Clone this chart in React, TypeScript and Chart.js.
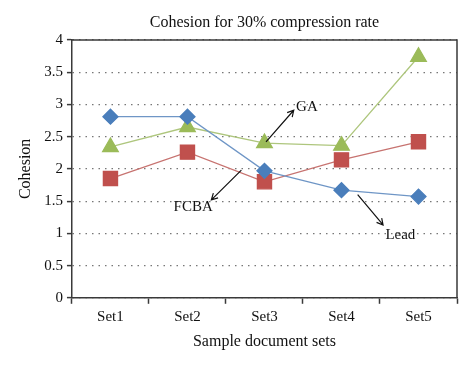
import React, { useEffect, useRef } from "react";
import { Chart, registerables } from "chart.js";

Chart.register(...registerables);

const categories = ["Set1", "Set2", "Set3", "Set4", "Set5"];
const leadValues = [2.81, 2.81, 1.97, 1.67, 1.57];
const gaValues = [2.34, 2.65, 2.40, 2.36, 3.74];
const fcbaValues = [1.85, 2.26, 1.80, 2.14, 2.42];

const titleText = "Cohesion for 30% compression rate";
const xTitle = "Sample document sets";
const yTitle = "Cohesion";

// annotation arrows in data coordinates: [fromIndex, fromValue, toIndex, toValue], label anchor [index, value]
const annotations = [
  { label: "GA", from: [2.02, 2.42], to: [2.38, 2.91], text: [2.41, 2.96] },
  { label: "FCBA", from: [1.70, 1.98], to: [1.31, 1.52], text: [0.82, 1.41] },
  { label: "Lead", from: [3.21, 1.60], to: [3.54, 1.13], text: [3.57, 0.98] },
];

const FONT = "'Liberation Serif', 'DejaVu Serif', serif";

const decorPlugin = {
  id: "decor",
  afterDraw(chart: any) {
    const { ctx, chartArea, scales } = chart;
    const xs = scales.x;
    const ys = scales.y;
    ctx.save();
    ctx.strokeStyle = "#3a3a3a";
    ctx.lineWidth = 1.5;
    ctx.beginPath();
    ctx.moveTo(chartArea.left, chartArea.top);
    ctx.lineTo(chartArea.right, chartArea.top);
    ctx.lineTo(chartArea.right, chartArea.bottom);
    ctx.stroke();
    ctx.fillStyle = "#111";
    ctx.font = `16px ${FONT}`;
    ctx.textAlign = "center";
    ctx.textBaseline = "middle";
    ctx.fillText(titleText, (chartArea.left + chartArea.right) / 2, 23);
    const px = (i: number) => xs.getPixelForValue(0) + i * (xs.getPixelForValue(1) - xs.getPixelForValue(0));
    const py = (v: number) => ys.getPixelForValue(v);
    ctx.strokeStyle = "#111";
    ctx.lineWidth = 1.2;
    for (const a of annotations) {
      const x1 = px(a.from[0]), y1 = py(a.from[1]);
      const x2 = px(a.to[0]), y2 = py(a.to[1]);
      ctx.beginPath();
      ctx.moveTo(x1, y1);
      ctx.lineTo(x2, y2);
      const ang = Math.atan2(y2 - y1, x2 - x1);
      const h = 7;
      ctx.moveTo(x2 - h * Math.cos(ang - 0.5), y2 - h * Math.sin(ang - 0.5));
      ctx.lineTo(x2, y2);
      ctx.lineTo(x2 - h * Math.cos(ang + 0.5), y2 - h * Math.sin(ang + 0.5));
      ctx.stroke();
      ctx.font = `15px ${FONT}`;
      ctx.textAlign = "left";
      ctx.textBaseline = "middle";
      ctx.fillText(a.label, px(a.text[0]), py(a.text[1]));
    }
    ctx.restore();
  },
};

export default function App() {
  const ref = useRef<HTMLCanvasElement>(null);
  useEffect(() => {
    if (!ref.current) return;
    const chart = new Chart(ref.current, {
      type: "line",
      data: {
        labels: categories,
        datasets: [
          {
            label: "Lead",
            data: leadValues,
            borderColor: "#6f96c6",
            backgroundColor: "#4a7ebb",
            pointBorderColor: "#4a7ebb",
            pointStyle: "rectRot",
            pointRadius: 7.5,
            borderWidth: 1.3,
          },
          {
            label: "FCBA",
            data: fcbaValues,
            borderColor: "#c77370",
            backgroundColor: "#c0504d",
            pointBorderColor: "#c0504d",
            pointStyle: "rect",
            pointRadius: 10,
            borderWidth: 1.3,
          },
          {
            label: "GA",
            data: gaValues,
            borderColor: "#aec67d",
            backgroundColor: "#9bbb59",
            pointBorderColor: "#9bbb59",
            pointStyle: "triangle",
            pointRadius: 9,
            borderWidth: 1.3,
          },
        ],
      },
      options: {
        responsive: false,
        animation: false,
        layout: { padding: { top: 40, right: 17, left: 12, bottom: 12 } },
        plugins: { legend: { display: false }, title: { display: false }, tooltip: { enabled: false } },
        scales: {
          x: {
            offset: true,
            grid: {
              display: true,
              drawOnChartArea: false,
              drawTicks: true,
              tickLength: 6,
              tickColor: "#3a3a3a",
              tickWidth: 1.5,
              offset: true,
            },
            border: { display: true, color: "#3a3a3a", width: 1.5 },
            ticks: { color: "#111", font: { family: FONT, size: 15 }, padding: 4 },
            title: { display: true, text: xTitle, color: "#111", font: { family: FONT, size: 16 }, padding: { top: 2 } },
          },
          y: {
            min: 0,
            max: 4,
            ticks: {
              stepSize: 0.5,
              color: "#111",
              font: { family: FONT, size: 15 },
              padding: 4,
              callback: (v: any) => String(v),
            },
            grid: {
              color: "#777",
              lineWidth: 1.2,
              tickBorderDash: [],
              tickColor: "#3a3a3a",
              tickLength: 5,
              tickWidth: 1.5,
            } as any,
            border: { display: true, color: "#3a3a3a", width: 1.5, dash: [1.5, 5] } as any,
            title: { display: true, text: yTitle, color: "#111", font: { family: FONT, size: 16 }, padding: { bottom: 5 } },
          },
        },
      },
      plugins: [decorPlugin],
    });
    return () => chart.destroy();
  }, []);
  return (
    <div style={{ position: "absolute", left: 0, top: 0, width: 474, height: 367, background: "#fff" }}>
      <canvas ref={ref} width={474} height={367} />
    </div>
  );
}
